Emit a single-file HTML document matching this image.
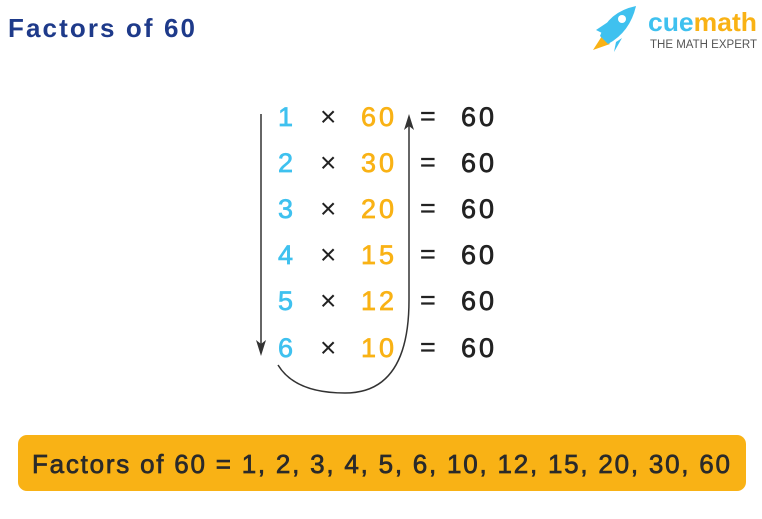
<!DOCTYPE html>
<html><head><style>body{margin:0;background:#fff}</style></head><body>
<svg width="762" height="514" xmlns="http://www.w3.org/2000/svg" font-family="Liberation Sans, sans-serif">
<rect width="762" height="514" fill="#fff"/>
<text x="8" y="37" font-size="26" font-weight="bold" fill="#1e3a8a" textLength="187" lengthAdjust="spacing">Factors of 60</text>
<!-- logo -->
<g transform="translate(590,6)">
<path d="M3,44 L12,30 L20,38 Z" fill="#f9b215"/>
<path d="M10,30 Q18,6 46,0 Q40,26 18,38 Z" fill="#3fc1ef"/>
<path d="M6,24 L18,16 L14,28 Z" fill="#3fc1ef"/>
<path d="M26,36 L24,46 L32,32 Z" fill="#3fc1ef"/>
<circle cx="32" cy="13" r="4" fill="#fff"/>
</g>
<text x="648" y="31" font-size="26" font-weight="bold" textLength="109" lengthAdjust="spacingAndGlyphs"><tspan fill="#3fc1ef">cue</tspan><tspan fill="#f9b215">math</tspan></text>
<text x="650" y="48" font-size="11.5" fill="#555" textLength="107" lengthAdjust="spacingAndGlyphs">THE MATH EXPERT</text>
<!-- rows -->
<g font-size="27" letter-spacing="3" stroke-width="0.7">
<g fill="#3fc1ef" stroke="#3fc1ef"><text x="278" y="126">1</text><text x="278" y="172">2</text><text x="278" y="218">3</text><text x="278" y="264">4</text><text x="278" y="310">5</text><text x="278" y="357">6</text></g>
<g fill="#222" font-size="28" stroke="none"><text x="320" y="126">×</text><text x="320" y="172">×</text><text x="320" y="218">×</text><text x="320" y="264">×</text><text x="320" y="310">×</text><text x="320" y="357">×</text></g>
<g fill="#f9b215" stroke="#f9b215" text-anchor="end"><text x="397" y="126">60</text><text x="397" y="172">30</text><text x="397" y="218">20</text><text x="397" y="264">15</text><text x="397" y="310">12</text><text x="397" y="357">10</text></g>
<g fill="#222" stroke="#222" stroke-width="0.3"><text x="420" y="125">=</text><text x="420" y="171">=</text><text x="420" y="217">=</text><text x="420" y="263">=</text><text x="420" y="309">=</text><text x="420" y="356">=</text></g>
<g fill="#222" stroke="#222"><text x="461" y="126">60</text><text x="461" y="172">60</text><text x="461" y="218">60</text><text x="461" y="264">60</text><text x="461" y="310">60</text><text x="461" y="357">60</text></g>
</g>
<!-- arrows -->
<line x1="261" y1="114" x2="261" y2="350" stroke="#333" stroke-width="1.5"/>
<path d="M256,340 L261,356 L266,340 L261,344 Z" fill="#333"/>
<path d="M278,365 Q295,393 345,393 Q409,393 409,300 L409,124" fill="none" stroke="#333" stroke-width="1.5"/>
<path d="M404,130 L409,114 L414,130 L409,126 Z" fill="#333"/>
<!-- banner -->
<rect x="18" y="435" width="728" height="56" rx="9" fill="#f9b215"/>
<text x="32" y="473" font-size="26" fill="#2a2a2a" stroke="#2a2a2a" stroke-width="0.7" textLength="698" lengthAdjust="spacing">Factors of 60 = 1, 2, 3, 4, 5, 6, 10, 12, 15, 20, 30, 60</text>
</svg>
</body></html>
